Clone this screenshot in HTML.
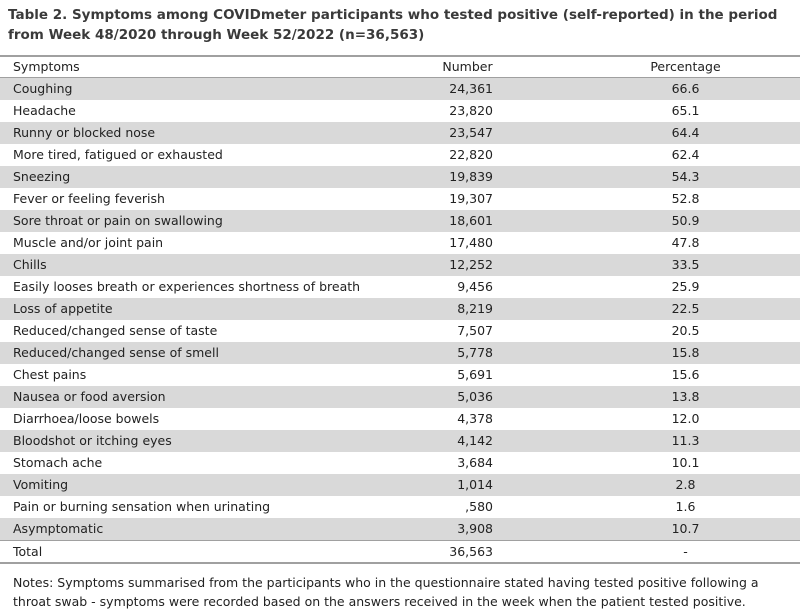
<!DOCTYPE html>
<html><head><meta charset="utf-8"><style>
body{margin:0;width:800px;height:616px;background:#fff;font-family:"DejaVu Sans","Liberation Sans",sans-serif;color:#222;overflow:hidden}
.t{position:absolute;left:8px;top:5px;font-weight:bold;font-size:13.5px;line-height:20px;color:#3a3a3a;white-space:nowrap}
table{position:absolute;left:0;top:55px;width:800px;border-collapse:collapse;table-layout:fixed;font-size:12.5px;border-top:2px solid #a0a0a0;border-bottom:2px solid #a0a0a0}
td{height:22px;padding:0;line-height:22px;white-space:nowrap;overflow:visible}
td.a{padding-left:13px}
td.b{text-align:right}
td.c{text-align:center;padding-left:78px}
tr.g td{background:#d9d9d9}
tr.h td{border-bottom:1px solid #a0a0a0;height:20px;line-height:20px}
tr.s td{border-top:1px solid #a0a0a0;height:21px;line-height:21px}
.n{position:absolute;left:13px;top:573px;font-size:12.5px;line-height:19px}
</style></head><body>
<div class="t">Table 2. Symptoms among COVIDmeter participants who tested positive (self-reported) in the period<br>from Week 48/2020 through Week 52/2022 (n=36,563)</div>
<table>
<colgroup><col style="width:400px"><col style="width:93px"><col style="width:307px"></colgroup>
<tr class="h"><td class="a">Symptoms</td><td class="b" style="text-align:center;padding-left:42px">Number</td><td class="c">Percentage</td></tr>
<tr class="g"><td class="a">Coughing</td><td class="b">24,361</td><td class="c">66.6</td></tr>
<tr><td class="a">Headache</td><td class="b">23,820</td><td class="c">65.1</td></tr>
<tr class="g"><td class="a">Runny or blocked nose</td><td class="b">23,547</td><td class="c">64.4</td></tr>
<tr><td class="a">More tired, fatigued or exhausted</td><td class="b">22,820</td><td class="c">62.4</td></tr>
<tr class="g"><td class="a">Sneezing</td><td class="b">19,839</td><td class="c">54.3</td></tr>
<tr><td class="a">Fever or feeling feverish</td><td class="b">19,307</td><td class="c">52.8</td></tr>
<tr class="g"><td class="a">Sore throat or pain on swallowing</td><td class="b">18,601</td><td class="c">50.9</td></tr>
<tr><td class="a">Muscle and/or joint pain</td><td class="b">17,480</td><td class="c">47.8</td></tr>
<tr class="g"><td class="a">Chills</td><td class="b">12,252</td><td class="c">33.5</td></tr>
<tr><td class="a">Easily looses breath or experiences shortness of breath</td><td class="b">9,456</td><td class="c">25.9</td></tr>
<tr class="g"><td class="a">Loss of appetite</td><td class="b">8,219</td><td class="c">22.5</td></tr>
<tr><td class="a">Reduced/changed sense of taste</td><td class="b">7,507</td><td class="c">20.5</td></tr>
<tr class="g"><td class="a">Reduced/changed sense of smell</td><td class="b">5,778</td><td class="c">15.8</td></tr>
<tr><td class="a">Chest pains</td><td class="b">5,691</td><td class="c">15.6</td></tr>
<tr class="g"><td class="a">Nausea or food aversion</td><td class="b">5,036</td><td class="c">13.8</td></tr>
<tr><td class="a">Diarrhoea/loose bowels</td><td class="b">4,378</td><td class="c">12.0</td></tr>
<tr class="g"><td class="a">Bloodshot or itching eyes</td><td class="b">4,142</td><td class="c">11.3</td></tr>
<tr><td class="a">Stomach ache</td><td class="b">3,684</td><td class="c">10.1</td></tr>
<tr class="g"><td class="a">Vomiting</td><td class="b">1,014</td><td class="c">2.8</td></tr>
<tr><td class="a">Pain or burning sensation when urinating</td><td class="b">,580</td><td class="c">1.6</td></tr>
<tr class="g"><td class="a">Asymptomatic</td><td class="b">3,908</td><td class="c">10.7</td></tr>
<tr class="s"><td class="a">Total</td><td class="b">36,563</td><td class="c">-</td></tr>
</table>
<div class="n">Notes: Symptoms summarised from the participants who in the questionnaire stated having tested positive following a<br>throat swab - symptoms were recorded based on the answers received in the week when the patient tested positive.</div>
</body></html>
